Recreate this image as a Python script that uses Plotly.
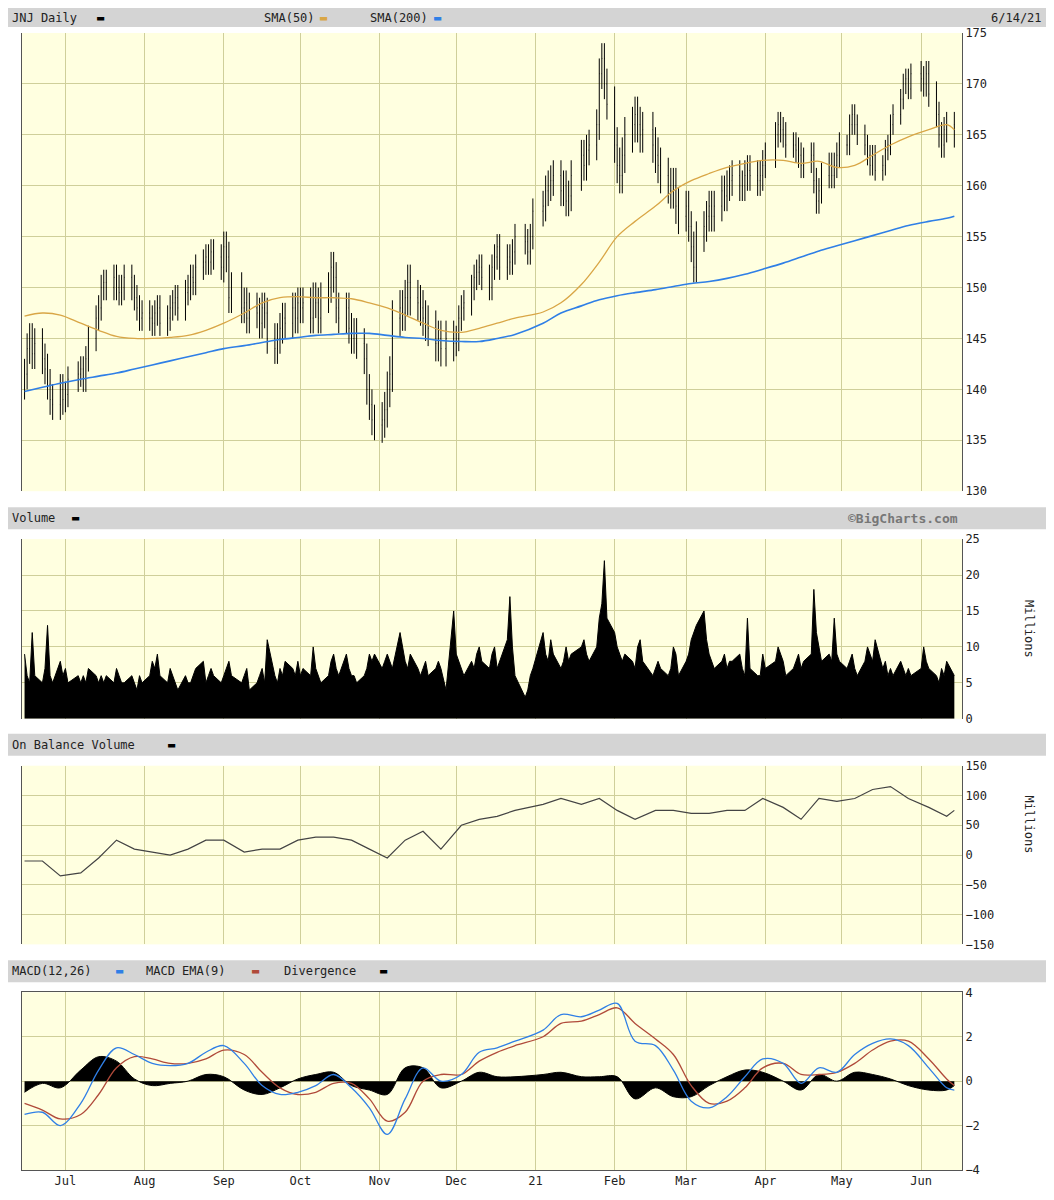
import pandas as pd
import numpy as np
import plotly.graph_objects as go

# ---- daily closes by month ----
closes_jun20 = [141.5,144,145,143.5,144.5,143,142,140.5,139,138.5,140,139]
closes_jul20 = [139.5,141,141.5,142,141,143,145,147,148,150,150.5,150,151,150,149.5,150,151,150,149,148,147,147.5]
closes_aug20 = [147,146.5,147.5,148,146.5,147,148,148.5,149,148,149.5,150,151,150.5,152,152.5,153,152.5,153.5,153,152]
closes_sep20 = [154,153,149,150,148,148.5,147,148,147.5,146.5,148,147.5,145,144,145,146,147,146.5,148,147,148.5]
closes_oct20 = [148,148.5,147,149,148.5,147,149,150,152,151,148,147,148,146,145,145.5,144.5,143,140,138.5,137,136.5]
closes_nov20 = [137,138,140,141.5,147,148,147.5,149,150.5,149,148.5,148,147,146.5,146,144.5,145,144,145,144.5]
closes_dec20 = [145,147,148,148.5,150,151,151.5,152,151,150,152,153,154,152,153,152.5,153.5,155,154.5,153.5,155,157.5]
closes_jan21 = [158,159.5,160,160.5,161,159.5,160,158.5,159,161,163,162,163.5,164,166,171,172.5,170,168]
closes_feb21 = [164,162,161,163,165,166,167,166,165,165.5,164,163,162,161,160,159.5,160,158,157]
closes_mar21 = [158,156,154,152,155,156,157,158,157,158,159.5,159,160,160.5,161,160,160,161,161.5,161,160.5,161,162]
closes_apr21 = [163,165,166,165.5,165,164,164,163.5,163,162,162.5,163,160.5,158.5,159.5,161,162,161,162,163,164]
closes_may21 = [164,166,167,166,165,164,163,162,163,161.5,162,163.5,164,166,167,168.5,170,170.5,169.5,171]
closes_jun21 = [170.5,170,171,169,167,165,164,165.5,166,165]
month_spread = [3,2.5,2.5,3,3,3.5,2.5,3,3.5,3,2.5,2,2.5]

# ---- daily volume (millions) ----
vol_jun20 = [9,6,5,12,6,5,7,13,6,5,8,6]
vol_jul20 = [7,5,6,5,6,5,7,6,5,6,5,6,5,7,6,5,5,6,5,4,6,5]
vol_aug20 = [6,8,7,9,6,5,7,6,5,4,6,5,5,6,7,8,5,6,7,6,5]
vol_sep20 = [6,7,8,6,5,6,7,4,5,6,7,5,11,6,5,7,6,8,7,6,8]
vol_oct20 = [6,7,6,10,7,6,5,6,8,9,7,6,9,7,6,6,5,6,7,9,8,9]
vol_nov20 = [7,8,9,8,7,12,10,8,7,9,7,6,7,8,6,7,8,7,4,15]
vol_dec20 = [9,8,7,6,8,7,9,10,8,7,9,10,7,8,11,17,10,6,3,4,6,7]
vol_jan21 = [12,9,8,11,9,7,8,10,8,9,10,11,9,8,10,14,16,22,14]
vol_feb21 = [12,10,9,8,9,8,7,10,11,8,6,7,8,7,6,7,10,9,6]
vol_mar21 = [8,9,11,12,13,15,11,9,8,7,8,9,7,8,8,9,7,6,14,7,6,6,9]
vol_apr21 = [7,8,10,9,8,6,7,8,9,7,8,9,18,12,10,8,9,8,14,9,8]
vol_may21 = [7,8,9,7,6,8,10,9,8,11,7,8,6,7,6,8,7,6,7,6]
vol_jun21 = [7,10,8,7,6,5,7,6,8,6]

# ---- weekly samples (every 5th trading day, last = final day) ----
sma50 = [147.2,147.5,147.3,146.5,145.8,145.2,145.0,145.0,145.1,145.3,145.8,146.5,147.5,148.5,149.0,149.1,149.0,149.0,148.9,148.5,148.0,147.3,146.5,145.8,145.6,146.0,146.5,147.0,147.6,148.5,150.3,152.5,155.0,156.5,158.0,159.5,160.5,161.2,161.8,162.2,162.5,162.5,162.2,162.4,161.8,162.0,163.0,164.0,164.8,165.5,166.0,165.5]
sma200 = [139.8,140.2,140.6,141.0,141.3,141.6,142.0,142.4,142.8,143.2,143.6,144.0,144.3,144.6,144.9,145.1,145.3,145.4,145.5,145.5,145.3,145.1,145.0,144.8,144.7,144.7,145.0,145.4,146.5,147.5,148.2,148.8,149.2,149.5,149.8,150.1,150.4,150.6,150.9,151.3,151.8,152.4,153.0,153.6,154.1,154.6,155.1,155.6,156.1,156.5,156.8,157.0]
obv = [-10,-10,-35,-30,-5,25,10,5,0,10,25,25,5,10,10,25,30,30,25,10,-5,25,40,10,50,60,65,75,85,95,85,95,75,60,75,75,70,70,75,75,95,80,60,95,90,95,110,115,95,80,65,75]
macd = [-1.5,-1.4,-2.0,-1.0,0.5,1.5,1.2,0.8,0.7,0.8,1.3,1.6,0.8,-0.2,-0.6,-0.5,-0.2,0.3,-0.3,-1.2,-2.4,-0.8,0.6,0.0,0.3,1.3,1.5,1.8,2.3,3.0,2.9,3.2,3.5,1.8,1.6,0.5,-0.9,-1.2,-0.7,0.2,1.0,0.8,-0.1,0.6,0.4,1.2,1.7,1.9,1.6,0.6,-0.3,-0.4]
macd_ema = [-1.0,-1.3,-1.7,-1.5,-0.6,0.6,1.1,1.0,0.8,0.8,1.0,1.4,1.2,0.4,-0.3,-0.6,-0.5,-0.1,-0.1,-0.8,-1.8,-1.4,0.0,0.3,0.3,0.9,1.3,1.6,2.0,2.6,2.7,3.0,3.3,2.6,1.9,1.2,-0.2,-1.0,-0.9,-0.3,0.6,0.8,0.3,0.3,0.4,0.8,1.4,1.8,1.8,1.0,0.1,-0.2]

month_ticks = ["2020-07-01","2020-08-01","2020-09-01","2020-10-01","2020-11-01","2020-12-01","2021-01-01","2021-02-01","2021-03-01","2021-04-01","2021-05-01","2021-06-01"]
month_labels = ["Jul","Aug","Sep","Oct","Nov","Dec","21","Feb","Mar","Apr","May","Jun"]

holidays = ["2020-07-03","2020-09-07","2020-11-26","2020-12-25","2021-01-01","2021-01-18","2021-02-15","2021-04-02","2021-05-31"]
dates = [d for d in pd.bdate_range("2020-06-15","2021-06-14") if d.strftime("%Y-%m-%d") not in holidays]

cm = [closes_jun20,closes_jul20,closes_aug20,closes_sep20,closes_oct20,closes_nov20,closes_dec20,closes_jan21,closes_feb21,closes_mar21,closes_apr21,closes_may21,closes_jun21]
vm = [vol_jun20,vol_jul20,vol_aug20,vol_sep20,vol_oct20,vol_nov20,vol_dec20,vol_jan21,vol_feb21,vol_mar21,vol_apr21,vol_may21,vol_jun21]
closes, spreads, vols = [], [], []
for c, s, v in zip(cm, month_spread, vm):
    closes += c; spreads += [s]*len(c); vols += v
n = min(len(dates), len(closes), len(vols))
dates = dates[:n]; closes = np.array(closes[:n]); spreads = np.array(spreads[:n]); vols = vols[:n]
opens = np.concatenate([[closes[0]-1], closes[:-1]])
highs = np.maximum(opens, closes) + spreads/2
lows = np.minimum(opens, closes) - spreads/2

widx = list(range(0, n, 5))[:51] + [n-1]
wdates = [dates[i] for i in widx]
m = len(wdates)
div = [a-b for a, b in zip(macd[:m], macd_ema[:m])]

OFF = 8  # page body margin
W, H = 1054-2*OFF, 1200-OFF
L, R, T, B = 22-OFF, 962-OFF, 33-OFF, 1172-OFF
def px(x): return (x-OFF-L)/(R-L)
def py(y): return (B-(y-OFF))/(B-T)

fig = go.Figure()
fig.add_trace(go.Ohlc(x=dates, open=opens, high=highs, low=lows, close=closes,
                      increasing=dict(line=dict(color="black", width=1)),
                      decreasing=dict(line=dict(color="black", width=1)),
                      tickwidth=0.15, xaxis="x", yaxis="y"))
fig.add_trace(go.Scatter(x=wdates, y=sma50[:m], mode="lines", line=dict(color="#d9a646", width=1.3, shape="spline"), xaxis="x", yaxis="y"))
fig.add_trace(go.Scatter(x=wdates, y=sma200[:m], mode="lines", line=dict(color="#2f7fe6", width=1.6, shape="spline"), xaxis="x", yaxis="y"))
fig.add_trace(go.Scatter(x=dates, y=vols, mode="lines", fill="tozeroy", fillcolor="black", line=dict(color="black", width=1), xaxis="x", yaxis="y2"))
fig.add_trace(go.Scatter(x=wdates, y=obv[:m], mode="lines", line=dict(color="#444", width=1.2), xaxis="x", yaxis="y3"))
fig.add_trace(go.Scatter(x=wdates, y=div, mode="lines", fill="tozeroy", fillcolor="black", line=dict(color="black", width=1, shape="spline"), xaxis="x", yaxis="y4"))
fig.add_trace(go.Scatter(x=wdates, y=macd_ema[:m], mode="lines", line=dict(color="#b04a3a", width=1.3, shape="spline"), xaxis="x", yaxis="y4"))
fig.add_trace(go.Scatter(x=wdates, y=macd[:m], mode="lines", line=dict(color="#2f7fe6", width=1.3, shape="spline"), xaxis="x", yaxis="y4"))

font = dict(family="DejaVu Sans Mono", size=12, color="#222")
grid = "#cfcf9a"
def yax(dom, rng, dt):
    return dict(domain=dom, range=rng, side="right", showgrid=True, gridcolor=grid, zeroline=False,
                showline=True, linecolor="#555", mirror=True, tickfont=font, ticks="", fixedrange=True,
                anchor="x", dtick=dt)

xcommon = dict(type="date", range=["2020-06-14", "2021-06-17"], tickvals=month_ticks, ticktext=month_labels,
               showgrid=True, gridcolor=grid, showline=True, linecolor="#555", mirror=True, tickfont=font,
               rangeslider=dict(visible=False))
shapes, ann = [], []
for top, bot in [(OFF, 27), (508, 530), (735, 757), (962, 984)]:
    shapes.append(dict(type="rect", xref="paper", yref="paper", x0=px(OFF), x1=px(W+OFF), y0=py(bot), y1=py(top),
                       fillcolor="#d4d4d4", line=dict(width=0), layer="below"))
def txt(x, y, t, color="#222", anchor="left", size=12, bold=False):
    ann.append(dict(xref="paper", yref="paper", x=px(x), y=py(y), text=("<b>%s</b>" % t) if bold else t,
                    showarrow=False, xanchor=anchor, yanchor="middle",
                    font=dict(family="DejaVu Sans Mono", size=size, color=color)))
HY = 18
txt(10, HY, "JNJ Daily"); txt(95, HY, "▬", "black")
txt(262, HY, "SMA(50)"); txt(318, HY, "▬", "#d9a646")
txt(368, HY, "SMA(200)"); txt(432, HY, "▬", "#2f7fe6")
txt(1044, HY, "6/14/21", anchor="right")
txt(10, 519, "Volume"); txt(70, 519, "▬", "black")
txt(960, 519, "©BigCharts.com", "#777", anchor="right", size=13, bold=True)
txt(10, 746, "On Balance Volume"); txt(166, 746, "▬", "black")
txt(10, 973, "MACD(12,26)"); txt(114, 973, "▬", "#2f7fe6")
txt(144, 973, "MACD EMA(9)"); txt(250, 973, "▬", "#b04a3a")
txt(282, 973, "Divergence"); txt(378, 973, "▬", "black")
for yy in (630, 857):
    ann.append(dict(xref="paper", yref="paper", x=px(1038), y=py(yy), text="Millions", textangle=90,
                    showarrow=False, font=font))

fig.update_layout(
    width=W, height=H, margin=dict(l=L, r=W-R, t=T, b=H-B),
    paper_bgcolor="white", plot_bgcolor="#ffffe0", showlegend=False,
    xaxis=dict(**xcommon, anchor="y4"),
    yaxis=yax([py(492), 1], [130, 175], 5),
    yaxis2=yax([py(720), py(540)], [0, 25], 5),
    yaxis3=yax([py(946), py(767)], [-150, 150], 50),
    yaxis4=yax([0, py(994)], [-4, 4], 2),
    shapes=shapes, annotations=ann,
)
fig.write_html("out.html")
